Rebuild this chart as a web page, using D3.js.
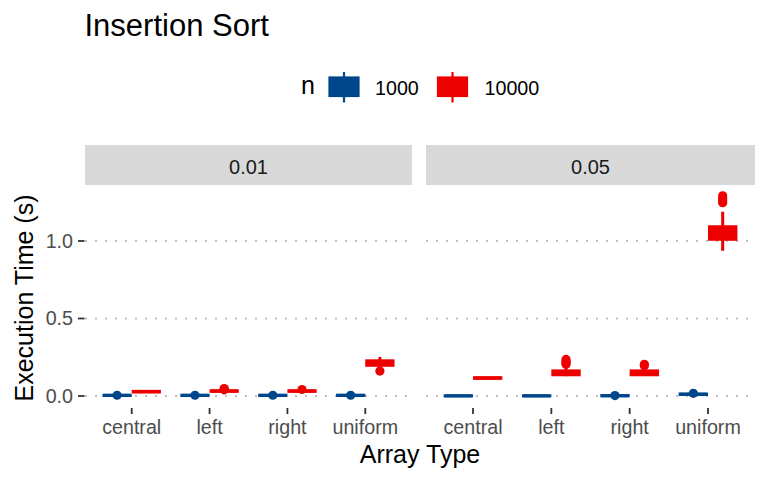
<!DOCTYPE html>
<html><head><meta charset="utf-8">
<script src="https://cdn.jsdelivr.net/npm/d3@7"></script>
<style>body{margin:0;background:#fff}svg{display:block;font-family:"Liberation Sans",Arial,sans-serif}</style>
</head><body><svg id="c" width="768" height="482"></svg>
<script>
// ---- data ----
const categories = ["central", "left", "right", "uniform"];
const facets = ["0.01", "0.05"];
const groups = ["1000", "10000"];
const groupColors = ["#00468B", "#ED0000"];
const yTicks = [0.0, 0.5, 1.0];
// box stats per category: [lower whisker, q1, median, q3, upper whisker]
const box001_n1000 = [[0.002,0.003,0.004,0.005,0.007],[0.002,0.003,0.004,0.005,0.007],[0.002,0.003,0.004,0.005,0.007],[0.002,0.003,0.004,0.005,0.007]];
const out001_n1000 = [[0.005],[0.005],[0.005],[0.005]];
const box001_n10000 = [[0.022,0.026,0.028,0.030,0.034],[0.028,0.030,0.032,0.034,0.038],[0.026,0.030,0.032,0.034,0.037],[0.190,0.198,0.215,0.227,0.252]];
const out001_n10000 = [[],[0.040,0.044,0.048],[0.042],[0.161]];
const box005_n1000 = [[0.000,0.0005,0.001,0.0015,0.002],[0.000,0.0005,0.001,0.0015,0.002],[0.000,0.001,0.002,0.003,0.004],[0.008,0.010,0.011,0.013,0.015]];
const out005_n1000 = [[],[],[0.003],[0.017]];
const box005_n10000 = [[0.112,0.114,0.116,0.118,0.120],[0.128,0.137,0.150,0.162,0.190],[0.130,0.137,0.148,0.162,0.180],[0.937,1.011,1.050,1.092,1.189]];
const out005_n10000 = [[],[0.205,0.215,0.225,0.236],[0.195,0.205],[1.247,1.260,1.275,1.292]];

const boxes = [[box001_n1000, box001_n10000],[box005_n1000, box005_n10000]];
const outs = [[out001_n1000, out001_n10000],[out005_n1000, out005_n10000]];

// ---- layout ----
const svg = d3.select("#c");
const panelX = [[85, 412], [426, 755]];
const panelTop = 188, panelBottom = 408;
const stripTop = 145, stripBottom = 185;
const y = d3.scaleLinear().domain([-0.0774, 1.342]).range([panelBottom, panelTop]);
const tickGrey = "#4D4D4D";
const lw = 3;

// title
svg.append("text").attr("x", 84.5).attr("y", 36).attr("font-size", 31).attr("fill", "#000").text("Insertion Sort");

// legend
svg.append("text").attr("x", 301).attr("y", 94).attr("font-size", 25).attr("fill", "#000").text("n");
const legX = [344, 452.5];
const legLabelX = [375, 484.5];
groups.forEach((g, i) => {
  const lg = svg.append("g");
  lg.append("line").attr("x1", legX[i]).attr("x2", legX[i]).attr("y1", 72).attr("y2", 102.5)
    .attr("stroke", groupColors[i]).attr("stroke-width", 2.2);
  lg.append("rect").attr("x", legX[i] - 14.5).attr("y", 77.5).attr("width", 29).attr("height", 18.5)
    .attr("fill", groupColors[i]).attr("stroke", groupColors[i]).attr("stroke-width", 2.2);
  lg.append("text").attr("x", legLabelX[i]).attr("y", 95).attr("font-size", 19.7).attr("fill", "#000").text(g);
});

// axis titles
svg.append("text").attr("x", 420).attr("y", 462.5).attr("text-anchor", "middle").attr("font-size", 25).attr("fill", "#000").text("Array Type");
svg.append("text").attr("transform", "translate(33,298) rotate(-90)").attr("text-anchor", "middle").attr("font-size", 25).attr("fill", "#000").text("Execution Time (s)");

// y axis ticks and labels (left only)
yTicks.forEach(t => {
  svg.append("line").attr("x1", 78).attr("x2", 84.5).attr("y1", y(t)).attr("y2", y(t)).attr("stroke", "#333").attr("stroke-width", 1.8);
  svg.append("text").attr("x", 73).attr("y", y(t)).attr("dy", "0.35em").attr("text-anchor", "end")
    .attr("font-size", 19.7).attr("fill", tickGrey).text(d3.format(".1f")(t));
});

facets.forEach((f, fi) => {
  const [x0, x1] = panelX[fi];
  const x = d3.scalePoint().domain(categories).range([x0, x1]).padding(0.6);
  const step = x.step();
  const off = d3.scalePoint().domain(groups).range([-step * 0.1875, step * 0.1875]);
  const bw = step * 0.3375;
  const g = svg.append("g");
  // strip
  g.append("rect").attr("x", x0).attr("y", stripTop).attr("width", x1 - x0).attr("height", stripBottom - stripTop).attr("fill", "#D9D9D9");
  g.append("text").attr("x", (x0 + x1) / 2).attr("y", 173.5).attr("text-anchor", "middle").attr("font-size", 20).attr("fill", "#1A1A1A").text(f);
  // gridlines
  yTicks.forEach(t => {
    g.append("line").attr("x1", x0).attr("x2", x1).attr("y1", y(t)).attr("y2", y(t))
      .attr("stroke", "#BDBDBD").attr("stroke-width", 2).attr("stroke-dasharray", "2 8");
  });
  // x ticks and labels
  categories.forEach(c => {
    g.append("line").attr("x1", x(c)).attr("x2", x(c)).attr("y1", panelBottom).attr("y2", panelBottom + 6).attr("stroke", "#333").attr("stroke-width", 1.8);
    g.append("text").attr("x", x(c)).attr("y", 433.5).attr("text-anchor", "middle").attr("font-size", 19.7).attr("fill", tickGrey).text(c);
  });
  // boxes
  groups.forEach((gr, gi) => {
    const col = groupColors[gi];
    categories.forEach((c, ci) => {
      const s = boxes[fi][gi][ci];
      const cx = x(c) + off(gr);
      g.append("line").attr("x1", cx).attr("x2", cx).attr("y1", y(s[0])).attr("y2", y(s[4])).attr("stroke", col).attr("stroke-width", lw);
      g.append("rect").attr("x", cx - bw / 2).attr("width", bw).attr("y", y(s[3])).attr("height", Math.max(0, y(s[1]) - y(s[3])))
        .attr("fill", col).attr("stroke", col).attr("stroke-width", lw);
      g.append("line").attr("x1", cx - bw / 2).attr("x2", cx + bw / 2).attr("y1", y(s[2])).attr("y2", y(s[2])).attr("stroke", col).attr("stroke-width", lw);
      outs[fi][gi][ci].forEach(v => {
        g.append("circle").attr("cx", cx).attr("cy", y(v)).attr("r", 4.6).attr("fill", col);
      });
    });
  });
});
</script></body></html>
